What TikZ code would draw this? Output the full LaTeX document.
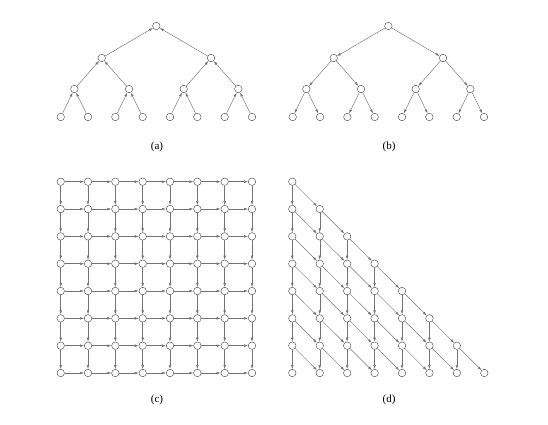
\documentclass[tikz,border=0pt]{standalone}
\usepackage{fontspec}
\setmainfont{Liberation Serif}
\usetikzlibrary{arrows.meta}

\begin{document}
\begin{tikzpicture}[x=1pt, y=-1pt,
        vtx/.style={circle, draw=black!75, fill=white, line width=0.4pt,
                    inner sep=0pt, minimum size=7.5pt},
        edge/.style={draw=black!55, line width=0.45pt,
                     -{Latex[length=4pt, width=2.6pt]}},
        caption/.style={font=\fontsize{11}{13}\selectfont}]
    \useasboundingbox (0,0) rectangle (548,424);
    % trees (a) and (b)
    \foreach \d/\y in {0/26, 1/58, 2/89, 3/117} {
        \pgfmathtruncatemacro\n{2^\d-1}
        \foreach \k in {0,...,\n} {
            \pgfmathsetmacro\x{60.7+27.33*(\k*2^(3-\d)+(2^(3-\d)-1)/2)}
            \node[vtx] (a-\d-\k) at (\x, \y) {};
            \node[vtx] (b-\d-\k) at (\x+232, \y) {};
        }
    }
    \foreach \d in {1, 2, 3} {
        \pgfmathtruncatemacro\n{2^\d-1}
        \pgfmathtruncatemacro\p{\d-1}
        \foreach \k in {0,...,\n} {
            \pgfmathtruncatemacro\q{floor(\k/2)}
            \draw[edge] (a-\d-\k) -- (a-\p-\q);
            \draw[edge] (b-\p-\q) -- (b-\d-\k);
        }
    }
    % grid (c)
    \foreach \i in {0,...,7}
        \foreach \j in {0,...,7}
            \node[vtx] (c-\i-\j) at (60.7+27.33*\j, 181.7+27.33*\i) {};
    \foreach \i in {0,...,7}
        \foreach \j [count=\jj from 1] in {0,...,6} {
            \draw[edge] (c-\i-\j) -- (c-\i-\jj);
            \draw[edge] (c-\j-\i) -- (c-\jj-\i);
        }
    % triangle (d)
    \foreach \i in {0,...,7}
        \foreach \j in {0,...,\i}
            \node[vtx] (d-\i-\j) at (292.3+27.43*\j, 181.7+27.33*\i) {};
    \foreach \i [count=\ii from 1] in {0,...,6}
        \foreach \j [count=\jj from 1] in {0,...,\i} {
            \draw[edge] (d-\i-\j) -- (d-\ii-\j);
            \draw[edge] (d-\i-\j) -- (d-\ii-\jj);
        }
    % captions
    \node[caption] (cap-a) at (157, 147) {(a)};
    \node[caption] (cap-b) at (389, 147) {(b)};
    \node[caption] (cap-c) at (157, 400) {(c)};
    \node[caption] (cap-d) at (389, 400) {(d)};
\end{tikzpicture}
\end{document}
